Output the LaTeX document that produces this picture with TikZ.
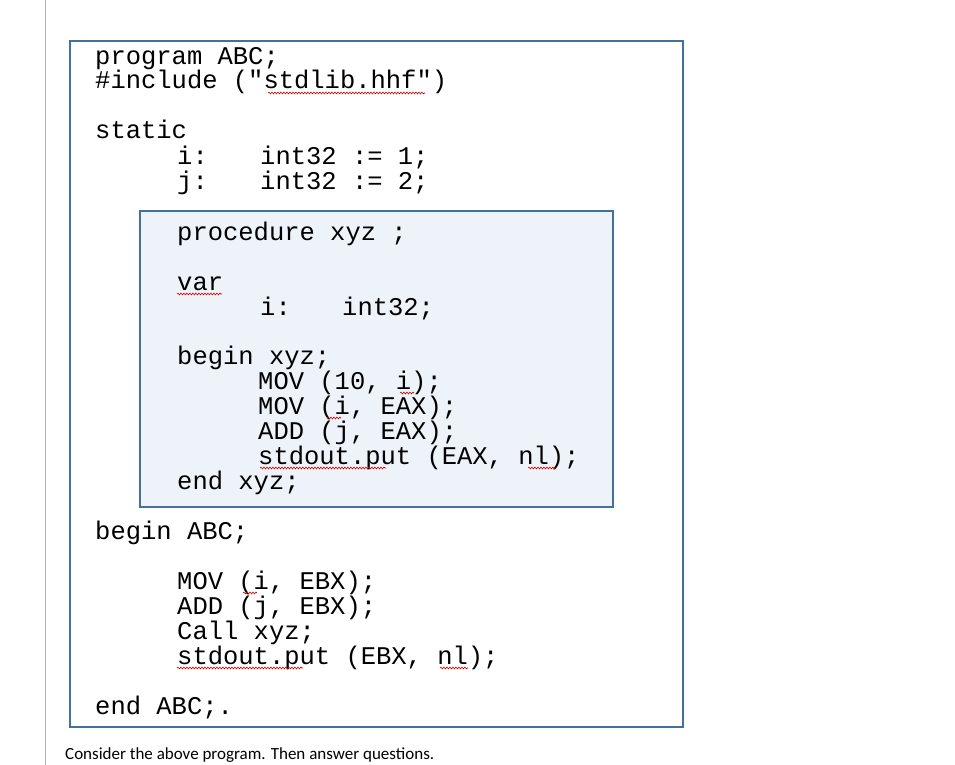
\documentclass[tikz,border=0pt]{standalone}
\usepackage{fontspec}
\setmainfont{Liberation Mono}[Ligatures=ResetAll]
\newfontfamily\capfont{Carlito}
\usetikzlibrary{decorations.pathmorphing}
\definecolor{bord}{HTML}{41719C}
\definecolor{inner}{HTML}{EEF3F9}
\begin{document}
\begin{tikzpicture}[x=1pt,y=-1pt,
  code/.style={anchor=west,inner sep=0pt,text height=15pt,text depth=4pt,yshift=-1.5pt,font=\fontsize{25.5}{25}\selectfont},
  sq/.style={draw=red!80!black,line width=0.6pt,decorate,decoration={snake,amplitude=0.9pt,segment length=3pt}}]
\useasboundingbox (0,0) rectangle (955,765);
\draw[gray!60,line width=1pt] (45,0) -- (45,765);
\draw[bord,line width=1.3pt,fill=white] (70,41) rectangle (683,727);
\draw[bord,line width=1.3pt,fill=inner] (140,211) rectangle (613,507);
\node[code] (l1) at (95,58) {program ABC;};
\node[code] (l2) at (95,82) {\#include (\textquotedbl stdlib.hhf\textquotedbl)};
\node[code] (l3) at (95,132) {static};
\node[code] (l4) at (177,157) {i:};
\node[code] (l4b) at (260,157) {int32 := 1;};
\node[code] (l5) at (177,182) {j:};
\node[code] (l5b) at (260,182) {int32 := 2;};
\node[code] (l6) at (177,233) {procedure xyz ;};
\node[code] (l7) at (177,283) {var};
\node[code] (l8) at (260,308) {i:};
\node[code] (l8b) at (342,308) {int32;};
\node[code] (l9) at (177,357) {begin xyz;};
\node[code] (l10) at (258,382) {MOV (10, i);};
\node[code] (l11) at (258,407) {MOV (i, EAX);};
\node[code] (l12) at (258,432) {ADD (j, EAX);};
\node[code] (l13) at (258,457) {stdout.put (EAX, nl);};
\node[code] (l14) at (177,482) {end xyz;};
\node[code] (l15) at (95,532) {begin ABC;};
\node[code] (l16) at (177,582) {MOV (i, EBX);};
\node[code] (l17) at (177,607) {ADD (j, EBX);};
\node[code] (l18) at (177,632) {Call xyz;};
\node[code] (l19) at (177,657) {stdout.put (EBX, nl);};
\node[code] (l20) at (95,707) {end ABC;.};
\node[anchor=west,inner sep=0pt,font=\capfont\fontsize{17}{17}\selectfont] (cap) at (65,755) {Consider the above program. Then answer questions.};
\draw[sq] (268,93) -- (425,93);
\draw[sq] (177,294) -- (222,294);
\draw[sq] (400,393) -- (414,393);
\draw[sq] (327,418) -- (341,418);
\draw[sq] (260,468) -- (386,468);
\draw[sq] (528,468) -- (556,468);
\draw[sq] (243,593) -- (257,593);
\draw[sq] (177,668) -- (303,668);
\draw[sq] (440,668) -- (468,668);
\end{tikzpicture}
\end{document}
